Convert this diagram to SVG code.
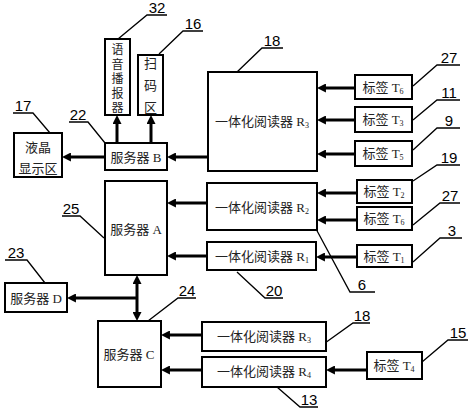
<svg xmlns="http://www.w3.org/2000/svg" width="474" height="415" viewBox="0 0 474 415">
<style>
.box{fill:#fff;stroke:#000;stroke-width:2}
.t{font-family:"Liberation Serif","Noto Sans CJK SC",serif;font-size:13px;fill:#222;text-anchor:middle}
.v{font-size:12px}
.s{font-size:8px}
.n{font-family:"Liberation Sans",Arial,sans-serif;font-size:15px;fill:#000;text-anchor:middle}
.ld{stroke:#000;stroke-width:1.3;fill:none}
.ar{stroke:#000;stroke-width:3;fill:none;marker-end:url(#ah)}
.dbl{stroke:#000;stroke-width:3;fill:none;marker-end:url(#ah);marker-start:url(#ah)}
</style>
<defs>
<marker id="ah" viewBox="0 0 10 10" refX="4.4" refY="5" markerWidth="9" markerHeight="9" markerUnits="userSpaceOnUse" orient="auto-start-reverse"><path d="M0,0 L10,5 L0,10 z" fill="#000"/></marker>
</defs>
<rect width="474" height="415" fill="#fff"/>

<g id="connectors">
<line class="ar" x1="105" y1="157" x2="67" y2="157"/>
<line class="ar" x1="208" y1="157" x2="172" y2="157"/>
<line class="ar" x1="117" y1="143" x2="117" y2="120"/>
<line class="ar" x1="151" y1="143" x2="151" y2="120"/>
<line class="ar" x1="355" y1="88" x2="322" y2="88"/>
<line class="ar" x1="355" y1="120" x2="322" y2="120"/>
<line class="ar" x1="355" y1="154" x2="322" y2="154"/>
<line class="ar" x1="207" y1="203" x2="172" y2="203"/>
<line class="ar" x1="207" y1="256" x2="172" y2="256"/>
<line class="ar" x1="357" y1="193" x2="322" y2="193"/>
<line class="ar" x1="357" y1="220" x2="322" y2="220"/>
<line class="ar" x1="357" y1="257" x2="321" y2="257"/>
<line class="dbl" x1="137" y1="280" x2="137" y2="316"/>
<line class="ar" x1="137" y1="298" x2="72" y2="298"/>
<line class="ar" x1="202" y1="335" x2="166" y2="335"/>
<line class="ar" x1="202" y1="370" x2="166" y2="370"/>
<line class="ar" x1="367" y1="370" x2="331" y2="370"/>
</g>

<g id="labels">
<path class="ld" d="M118,39 L147,15 L167,15"/><text class="n" x="157" y="13">32</text>
<path class="ld" d="M159,54 L183,31 L203,31"/><text class="n" x="193" y="29">16</text>
<path class="ld" d="M50,133 L33,113 L13,113"/><text class="n" x="23" y="111">17</text>
<path class="ld" d="M105,143 L88,122 L69,122"/><text class="n" x="78" y="120">22</text>
<path class="ld" d="M237,72 L262,48 L283,48"/><text class="n" x="272" y="46">18</text>
<path class="ld" d="M413,86 L437,65 L460,65"/><text class="n" x="449" y="63">27</text>
<path class="ld" d="M413,120 L437,100 L460,100"/><text class="n" x="449" y="98">11</text>
<path class="ld" d="M413,150 L437,128 L460,128"/><text class="n" x="449" y="126">9</text>
<path class="ld" d="M413,181 L437,165 L460,165"/><text class="n" x="449" y="163">19</text>
<path class="ld" d="M413,225 L440,203 L460,203"/><text class="n" x="450" y="201">27</text>
<path class="ld" d="M413,262 L440,238 L462,238"/><text class="n" x="452" y="236">3</text>
<path class="ld" d="M315,227 L350,292 L375,292"/><text class="n" x="362" y="290">6</text>
<path class="ld" d="M237,272 L265,298 L283,298"/><text class="n" x="274" y="296">20</text>
<path class="ld" d="M104,238 L80,216 L62,216"/><text class="n" x="71" y="214">25</text>
<path class="ld" d="M45,283 L27,260 L5,260"/><text class="n" x="16" y="258">23</text>
<path class="ld" d="M148,321 L178,298 L196,298"/><text class="n" x="187" y="296">24</text>
<path class="ld" d="M325,343 L353,323 L370,323"/><text class="n" x="362" y="321">18</text>
<path class="ld" d="M422,362 L448,340 L468,340"/><text class="n" x="458" y="338">15</text>
<path class="ld" d="M277,387 L300,407 L318,407"/><text class="n" x="309" y="405">13</text>
</g>

<g id="voice"><rect class="box" x="105" y="39" width="25" height="76"/>
<text class="t v" x="117.5" y="54">语</text><text class="t v" x="117.5" y="68.5">音</text><text class="t v" x="117.5" y="83">播</text><text class="t v" x="117.5" y="97.5">报</text><text class="t v" x="117.5" y="112">器</text></g>
<g id="scan"><rect class="box" x="138" y="55" width="25" height="60"/>
<text class="t" x="150.5" y="68">扫</text><text class="t" x="150.5" y="90">码</text><text class="t" x="150.5" y="112">区</text></g>
<g id="lcd"><rect class="box" x="14" y="133" width="48" height="44"/>
<text class="t" x="38" y="152">液晶</text><text class="t" x="38" y="173">显示区</text></g>
<g id="serverB"><rect class="box" x="105" y="143" width="62" height="27"/><text class="t" x="136" y="162">服务器 B</text></g>
<g id="readerR3a"><rect class="box" x="208" y="72" width="109" height="99"/><text class="t" x="262" y="126">一体化阅读器 R<tspan class="s" dy="2">3</tspan></text></g>
<g id="tagT6a"><rect class="box" x="355" y="75" width="57" height="24"/><text class="t" x="383" y="92">标签 T<tspan class="s" dy="2">6</tspan></text></g>
<g id="tagT3"><rect class="box" x="355" y="107" width="57" height="25"/><text class="t" x="383" y="124">标签 T<tspan class="s" dy="2">3</tspan></text></g>
<g id="tagT5"><rect class="box" x="355" y="141" width="57" height="25"/><text class="t" x="383" y="158">标签 T<tspan class="s" dy="2">5</tspan></text></g>
<g id="serverA"><rect class="box" x="105" y="181" width="62" height="94"/><text class="t" x="136" y="234">服务器 A</text></g>
<g id="readerR2"><rect class="box" x="207" y="183" width="110" height="47"/><text class="t" x="262" y="212">一体化阅读器 R<tspan class="s" dy="2">2</tspan></text></g>
<g id="readerR1"><rect class="box" x="207" y="242" width="109" height="28"/><text class="t" x="262" y="261">一体化阅读器 R<tspan class="s" dy="2">1</tspan></text></g>
<g id="tagT2"><rect class="box" x="357" y="180" width="55" height="23"/><text class="t" x="384" y="196">标签 T<tspan class="s" dy="2">2</tspan></text></g>
<g id="tagT6b"><rect class="box" x="357" y="207" width="55" height="23"/><text class="t" x="384" y="223">标签 T<tspan class="s" dy="2">6</tspan></text></g>
<g id="tagT1"><rect class="box" x="357" y="245" width="55" height="22"/><text class="t" x="384" y="261">标签 T<tspan class="s" dy="2">1</tspan></text></g>
<g id="serverD"><rect class="box" x="5" y="283" width="62" height="29"/><text class="t" x="36" y="303">服务器 D</text></g>
<g id="serverC"><rect class="box" x="98" y="321" width="63" height="66"/><text class="t" x="129" y="359">服务器 C</text></g>
<g id="readerR3b"><rect class="box" x="202" y="322" width="124" height="29"/><text class="t" x="264" y="341">一体化阅读器 R<tspan class="s" dy="2">3</tspan></text></g>
<g id="readerR4"><rect class="box" x="202" y="357" width="124" height="30"/><text class="t" x="264" y="376">一体化阅读器 R<tspan class="s" dy="2">4</tspan></text></g>
<g id="tagT4"><rect class="box" x="367" y="352" width="55" height="27"/><text class="t" x="394" y="370">标签 T<tspan class="s" dy="2">4</tspan></text></g>
</svg>
